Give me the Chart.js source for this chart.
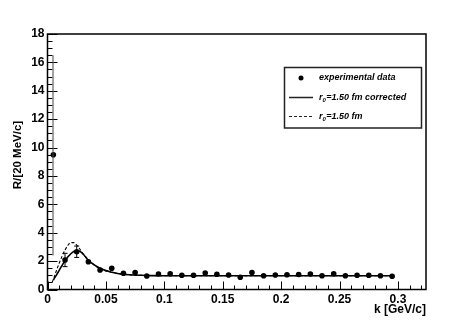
<!DOCTYPE html>
<html><head><meta charset="utf-8">
<script src="https://cdn.jsdelivr.net/npm/chart.js@4.4.0/dist/chart.umd.min.js"></script>
<style>html,body{margin:0;padding:0;background:#fff;}canvas{display:block;}</style>
</head><body>
<canvas id="c" width="474" height="321"></canvas>
<script>
// experimental data
const dataX = [0.005,0.015,0.025,0.035,0.045,0.055,0.065,0.075,0.085,0.095,0.105,0.115,0.125,0.135,0.145,0.155,0.165,0.175,0.185,0.195,0.205,0.215,0.225,0.235,0.245,0.255,0.265,0.275,0.285,0.295];
const dataY = [9.49,2.08,2.66,1.96,1.37,1.50,1.14,1.19,0.95,1.09,1.11,1.00,1.00,1.16,1.07,1.02,0.86,1.19,0.97,1.02,1.04,1.06,1.09,0.97,1.11,0.97,1.00,1.00,0.97,0.93];
const dataErr = [0.15,0.47,0.40,0.20,0.10,0.08,0.07,0.07,0.06,0.06,0.06,0.06,0.06,0.06,0.06,0.06,0.06,0.06,0.06,0.06,0.06,0.06,0.06,0.06,0.06,0.06,0.06,0.06,0.06,0.06];
// r0 = 1.50 fm corrected (solid)
const solidX = [0.005,0.0075,0.01,0.0125,0.015,0.0175,0.02,0.0225,0.025,0.0275,0.03,0.0325,0.035,0.04,0.045,0.05,0.055,0.06,0.07,0.08,0.09,0.1,0.15,0.2,0.25,0.295];
const solidY = [0.67,1.0,1.35,1.7,2.02,2.3,2.52,2.68,2.75,2.7,2.55,2.3,2.05,1.73,1.5,1.33,1.22,1.13,1.04,1.0,0.98,0.97,0.97,0.97,0.97,0.97];
// r0 = 1.50 fm (dashed)
const dashX = [0.004,0.0075,0.01,0.0125,0.015,0.0175,0.02,0.0225,0.025,0.0275,0.03,0.0325,0.035,0.04,0.045,0.05,0.055,0.06,0.07,0.08,0.09,0.1,0.15,0.2,0.25,0.295];
const dashY = [0.5,1.3,1.85,2.35,2.78,3.12,3.3,3.3,3.13,2.87,2.55,2.3,2.08,1.73,1.45,1.3,1.2,1.12,1.03,1.0,0.98,0.97,0.97,0.97,0.97,0.97];

const legendLabels = ['experimental data', '=1.50 fm corrected', '=1.50 fm'];
const xTitle = 'k [GeV/c]';
const yTitle = 'R/[20 MeV/c]';

const FONT = 'Liberation Sans';
const zip = (xs, ys) => xs.map((x, i) => ({x, y: ys[i]}));

const decor = {
  id: 'decor',
  afterDatasetsDraw(chart) {
    const ctx = chart.ctx, xs = chart.scales.x, ys = chart.scales.y;
    ctx.save();
    ctx.strokeStyle = '#000'; ctx.lineWidth = 1;
    dataX.forEach((x, i) => {
      const px = xs.getPixelForValue(x);
      const y1 = ys.getPixelForValue(dataY[i] - dataErr[i]);
      const y2 = ys.getPixelForValue(dataY[i] + dataErr[i]);
      if (Math.abs(y1 - y2) > 6) {
        ctx.beginPath();
        ctx.moveTo(px, y1); ctx.lineTo(px, y2);
        ctx.moveTo(px - 2.5, y1); ctx.lineTo(px + 2.5, y1);
        ctx.moveTo(px - 2.5, y2); ctx.lineTo(px + 2.5, y2);
        ctx.stroke();
      }
    });
    ctx.restore();
  },
  afterDraw(chart) {
    const ctx = chart.ctx, a = chart.chartArea, xs = chart.scales.x, ys = chart.scales.y;
    ctx.save();
    // ticks
    ctx.strokeStyle = '#000'; ctx.lineWidth = 1;
    ctx.beginPath();
    for (let k = 0; k <= 32; k++) {
      const v = k / 100;
      const px = Math.round(xs.getPixelForValue(v)) + 0.5;
      const len = (k % 5 === 0) ? 8 : 4;
      ctx.moveTo(px, a.bottom); ctx.lineTo(px, a.bottom - len);
    }
    for (let k = 0; k <= 36; k++) {
      const v = k / 2;
      const py = Math.round(ys.getPixelForValue(v)) + 0.5;
      const len = (k % 4 === 0) ? 10 : 5;
      ctx.moveTo(a.left, py); ctx.lineTo(a.left + len, py);
    }
    ctx.stroke();
    // faint ladder line
    ctx.strokeStyle = '#444';
    ctx.beginPath();
    ctx.moveTo(a.left + 5.5, ys.getPixelForValue(16.5)); ctx.lineTo(a.left + 5.5, ys.getPixelForValue(2.4));
    ctx.stroke();
    // frame
    ctx.strokeStyle = '#000'; ctx.lineWidth = 1.5;
    ctx.strokeRect(a.left, a.top, a.right - a.left, a.bottom - a.top);
    // y title
    ctx.save();
    ctx.fillStyle = '#000';
    ctx.font = 'bold 11.5px "' + FONT + '"';
    ctx.translate(18, 155);
    ctx.rotate(-Math.PI / 2);
    ctx.textAlign = 'center'; ctx.textBaseline = 'middle';
    ctx.fillText(yTitle, 0, 0);
    ctx.restore();
    // legend box
    const bx = 284.5, by = 67.5, bw = 137, bh = 60.5;
    ctx.fillStyle = '#fff';
    ctx.fillRect(bx, by, bw, bh);
    ctx.strokeStyle = '#222'; ctx.lineWidth = 1.5;
    ctx.strokeRect(bx, by, bw, bh);
    ctx.fillStyle = '#000';
    ctx.textBaseline = 'middle'; ctx.textAlign = 'left';
    const lf = 'italic bold 9px "' + FONT + '"';
    const sf = 'italic bold 6px "' + FONT + '"';
    // entry 1
    ctx.beginPath(); ctx.arc(301, 78, 2.5, 0, Math.PI * 2); ctx.fill();
    ctx.font = lf; ctx.fillText(legendLabels[0], 319, 78);
    // entry 2
    ctx.lineWidth = 1.5; ctx.setLineDash([]);
    ctx.beginPath(); ctx.moveTo(289, 97.5); ctx.lineTo(313, 97.5); ctx.stroke();
    const drawR = (y, rest) => {
      ctx.font = lf; ctx.fillText('r', 319, y);
      const w = ctx.measureText('r').width;
      ctx.font = sf; ctx.fillText('0', 319 + w, y + 2.5);
      const w2 = ctx.measureText('0').width;
      ctx.font = lf; ctx.fillText(rest, 319 + w + w2 + 0.5, y);
    };
    drawR(97.5, legendLabels[1]);
    // entry 3
    ctx.lineWidth = 1; ctx.setLineDash([3, 2]);
    ctx.beginPath(); ctx.moveTo(289, 116.5); ctx.lineTo(313, 116.5); ctx.stroke();
    ctx.setLineDash([]);
    drawR(116.5, legendLabels[2]);
    ctx.restore();
  }
};

const tickFont = {family: FONT, weight: 'bold', size: 12};

new Chart(document.getElementById('c'), {
  type: 'scatter',
  data: {
    datasets: [
      {label: 'experimental data', data: zip(dataX, dataY), pointRadius: 2.8, pointHoverRadius: 2.8,
       backgroundColor: '#000', borderColor: '#000', borderWidth: 0, showLine: false, order: 0},
      {label: 'solid', data: zip(solidX, solidY), showLine: true, pointRadius: 0, borderColor: '#000',
       borderWidth: 1.6, cubicInterpolationMode: 'monotone', fill: false, order: 1},
      {label: 'dashed', data: zip(dashX, dashY), showLine: true, pointRadius: 0, borderColor: '#000',
       borderWidth: 1.1, borderDash: [3, 2], cubicInterpolationMode: 'monotone', fill: false, order: 2}
    ]
  },
  options: {
    responsive: false, animation: false, devicePixelRatio: 1,
    layout: {padding: {top: 34, right: 48, left: 0, bottom: 0}},
    plugins: {legend: {display: false}, tooltip: {enabled: false}},
    scales: {
      x: {
        type: 'linear', min: 0, max: 0.324,
        grid: {display: false, drawTicks: false}, border: {display: false},
        ticks: {stepSize: 0.05, includeBounds: false, autoSkip: false, maxRotation: 0,
                font: tickFont, color: '#000', padding: 3,
                callback: v => String(+v.toFixed(2))},
        title: {display: true, text: xTitle, align: 'end', color: '#000', font: tickFont, padding: {top: 0, bottom: 4}},
        afterFit: s => { s.height = 31.5; }
      },
      y: {
        min: 0, max: 18,
        grid: {display: false, drawTicks: false}, border: {display: false},
        ticks: {stepSize: 2, font: tickFont, color: '#000', padding: 3,
                callback: v => String(v)},
        title: {display: false},
        afterFit: s => { s.width = 47.5; }
      }
    }
  },
  plugins: [decor]
});
</script>
</body></html>
